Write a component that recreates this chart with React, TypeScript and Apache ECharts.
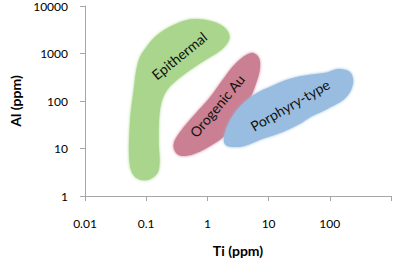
import React, { useEffect, useRef } from "react";
import * as echarts from "echarts";

// Region outlines as [Ti ppm, Al ppm]
const epithermal: number[][] = [
  [0.054, 4.4], [0.054, 33], [0.062, 160], [0.074, 680], [0.1, 1360], [0.16, 2600],
  [0.33, 4400], [0.62, 5300], [1.3, 4600], [2.0, 3300], [2.3, 2100], [1.7, 1200],
  [0.8, 650], [0.39, 340], [0.22, 170], [0.17, 72], [0.16, 15.5], [0.16, 3.5],
  [0.11, 2.2], [0.069, 2.4],
];
const orogenic: number[][] = [
  [5.2, 1030], [6.9, 820], [7.2, 470], [6.2, 230], [5.0, 115], [3.0, 39], [1.86, 17.8],
  [0.9, 9.7], [0.46, 7.0], [0.32, 7.7], [0.28, 12.2], [0.36, 22.5], [0.62, 52],
  [1.08, 115], [1.73, 267], [3.0, 650],
];
const porphyry: number[][] = [
  [1.86, 14], [2.08, 28], [3.0, 63], [5.6, 132], [11.6, 210], [24, 300], [50, 360],
  [93, 405], [134, 470], [215, 405], [240, 232], [180, 115], [93, 69], [50, 47],
  [35, 35], [16.7, 22], [8, 16], [3.9, 11.2], [2.15, 11.2],
];
const regionNames = ["Epithermal", "Orogenic Au", "Porphyry-type"];
const regionOutlines = [epithermal, orogenic, porphyry];
const labelAnchors: number[][] = [[0.347, 896], [1.44, 79], [22.3, 82]];
const labelAngles = [39, 50, 30];
const regionColors = ["#a9d68c", "#ca7f92", "#98bde0"];

const xTicks = [0.01, 0.1, 1, 10, 100, 1000];
const yTicks = [1, 10, 100, 1000, 10000];

const fmt = (v: number) => String(+Number(v).toPrecision(3));

export default function App() {
  const ref = useRef<HTMLDivElement>(null);
  useEffect(() => {
    if (!ref.current) return;
    const chart = echarts.init(ref.current, null, { renderer: "svg" });
    const font = "Lato, 'Open Sans', sans-serif";
    chart.setOption({
      animation: false,
      textStyle: { fontFamily: font },
      grid: { left: 77, top: 4.3, width: 315, height: 197.5, containLabel: false },
      xAxis: {
        type: "log",
        logBase: 10,
        min: xTicks[0],
        max: xTicks[xTicks.length - 1],
        name: "Ti (ppm)",
        nameLocation: "middle",
        nameGap: 47,
        nameTextStyle: { fontSize: 14, fontWeight: "bold", color: "#000", fontFamily: font },
        axisLine: { show: true, lineStyle: { color: "#a6a6a6", width: 1 } },
        axisTick: { show: true, length: 5, lineStyle: { color: "#a6a6a6" } },
        axisLabel: {
          fontSize: 12,
          color: "#000",
          margin: 21,
          fontFamily: font,
          formatter: (v: number) => (v >= 999 ? "" : fmt(v)),
        },
        splitLine: { show: false },
        minorTick: { show: false },
      },
      yAxis: {
        type: "log",
        logBase: 10,
        min: yTicks[0],
        max: yTicks[yTicks.length - 1],
        name: "Al (ppm)",
        nameLocation: "middle",
        nameGap: 63,
        nameTextStyle: { fontSize: 14, fontWeight: "bold", color: "#000", fontFamily: font },
        axisLine: { show: true, lineStyle: { color: "#a6a6a6", width: 1 } },
        axisTick: { show: true, length: 5, lineStyle: { color: "#a6a6a6" } },
        axisLabel: {
          fontSize: 12,
          color: "#000",
          margin: 17,
          fontFamily: font,
          formatter: (v: number) => fmt(v),
        },
        splitLine: { show: false },
      },
      series: [
        {
          type: "custom",
          coordinateSystem: "cartesian2d",
          data: regionNames.map((n, i) => ({ name: n, value: labelAnchors[i] })),
          clip: false,
          renderItem: (params: any, api: any) => {
            const i = params.dataIndex;
            const pts = regionOutlines[i].map((p) => api.coord(p));
            const c = api.coord(labelAnchors[i]);
            return {
              type: "group",
              children: [
                {
                  type: "polygon",
                  shape: { points: pts, smooth: 0.35 },
                  style: {
                    fill: regionColors[i],
                    shadowBlur: 3,
                    shadowColor: regionColors[i],
                  },
                },
                {
                  type: "text",
                  x: c[0],
                  y: c[1],
                  rotation: (labelAngles[i] * Math.PI) / 180,
                  style: {
                    text: regionNames[i],
                    fill: "#111",
                    font: `14px ${font}`,
                    align: "center",
                    verticalAlign: "middle",
                  },
                },
              ],
            };
          },
        },
      ],
    });
    return () => chart.dispose();
  }, []);
  return (
    <div
      ref={ref}
      style={{ position: "fixed", left: 0, top: 0, width: 394, height: 262, background: "#fff" }}
    />
  );
}
